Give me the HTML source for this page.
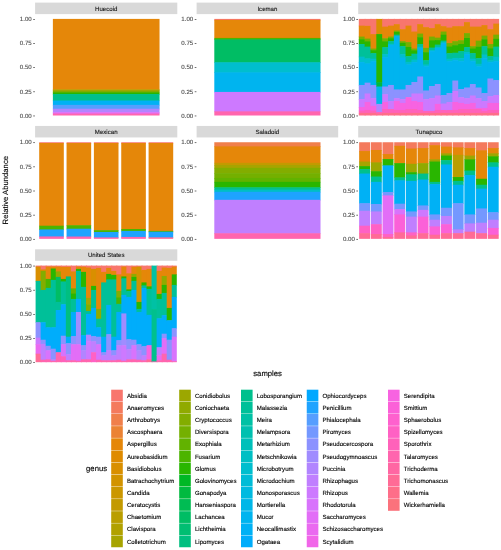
<!DOCTYPE html>
<html><head><meta charset="utf-8"><title>Relative Abundance by genus</title>
<style>
html,body{margin:0;padding:0;background:#fff;}
body{width:501px;height:550px;overflow:hidden;}
svg{display:block;text-rendering:geometricPrecision;}
text{stroke-width:0.12px;paint-order:stroke;font-family:"Liberation Sans",Arial,Helvetica,sans-serif;}
</style></head><body>
<svg width="501" height="550" viewBox="0 0 501 550">
<rect x="0" y="0" width="501" height="550" fill="#FFFFFF"/>
<rect x="35.10" y="2.60" width="142.20" height="11.50" fill="#D9D9D9"/>
<text x="106.20" y="10.50" font-size="6.1" fill="#1A1A1A" stroke="#1A1A1A" text-anchor="middle">Huecoid</text>
<rect x="33.20" y="19.00" width="1.70" height="0.70" fill="#333333"/>
<text x="31.70" y="21.05" font-size="6.1" fill="#4D4D4D" stroke="#4D4D4D" text-anchor="end">1.00</text>
<rect x="33.20" y="43.15" width="1.70" height="0.70" fill="#333333"/>
<text x="31.70" y="45.20" font-size="6.1" fill="#4D4D4D" stroke="#4D4D4D" text-anchor="end">0.75</text>
<rect x="33.20" y="67.30" width="1.70" height="0.70" fill="#333333"/>
<text x="31.70" y="69.35" font-size="6.1" fill="#4D4D4D" stroke="#4D4D4D" text-anchor="end">0.50</text>
<rect x="33.20" y="91.45" width="1.70" height="0.70" fill="#333333"/>
<text x="31.70" y="93.50" font-size="6.1" fill="#4D4D4D" stroke="#4D4D4D" text-anchor="end">0.25</text>
<rect x="33.20" y="115.60" width="1.70" height="0.70" fill="#333333"/>
<text x="31.70" y="117.65" font-size="6.1" fill="#4D4D4D" stroke="#4D4D4D" text-anchor="end">0.00</text>
<rect x="52.88" y="18.90" width="106.65" height="70.92" fill="#E58709"/>
<rect x="52.88" y="89.22" width="106.65" height="1.76" fill="#BA9E00"/>
<rect x="52.88" y="90.38" width="106.65" height="1.86" fill="#90AA00"/>
<rect x="52.88" y="91.64" width="106.65" height="1.66" fill="#62B200"/>
<rect x="52.88" y="92.70" width="106.65" height="1.95" fill="#29B600"/>
<rect x="52.88" y="94.05" width="106.65" height="7.07" fill="#00C08D"/>
<rect x="52.88" y="100.53" width="106.65" height="4.95" fill="#00B1F5"/>
<rect x="52.88" y="104.87" width="106.65" height="4.46" fill="#569EFF"/>
<rect x="52.88" y="108.74" width="106.65" height="3.98" fill="#B185FF"/>
<rect x="52.88" y="112.12" width="106.65" height="2.05" fill="#E26EF7"/>
<rect x="52.88" y="113.57" width="106.65" height="1.93" fill="#FF65AE"/>
<rect x="196.60" y="2.60" width="141.60" height="11.50" fill="#D9D9D9"/>
<text x="267.40" y="10.50" font-size="6.1" fill="#1A1A1A" stroke="#1A1A1A" text-anchor="middle">Iceman</text>
<rect x="194.70" y="19.00" width="1.70" height="0.70" fill="#333333"/>
<text x="193.20" y="21.05" font-size="6.1" fill="#4D4D4D" stroke="#4D4D4D" text-anchor="end">1.00</text>
<rect x="194.70" y="43.15" width="1.70" height="0.70" fill="#333333"/>
<text x="193.20" y="45.20" font-size="6.1" fill="#4D4D4D" stroke="#4D4D4D" text-anchor="end">0.75</text>
<rect x="194.70" y="67.30" width="1.70" height="0.70" fill="#333333"/>
<text x="193.20" y="69.35" font-size="6.1" fill="#4D4D4D" stroke="#4D4D4D" text-anchor="end">0.50</text>
<rect x="194.70" y="91.45" width="1.70" height="0.70" fill="#333333"/>
<text x="193.20" y="93.50" font-size="6.1" fill="#4D4D4D" stroke="#4D4D4D" text-anchor="end">0.25</text>
<rect x="194.70" y="115.60" width="1.70" height="0.70" fill="#333333"/>
<text x="193.20" y="117.65" font-size="6.1" fill="#4D4D4D" stroke="#4D4D4D" text-anchor="end">0.00</text>
<rect x="214.30" y="18.90" width="106.20" height="1.57" fill="#F8766D"/>
<rect x="214.30" y="19.87" width="106.20" height="18.66" fill="#E58709"/>
<rect x="214.30" y="37.93" width="106.20" height="2.05" fill="#4CB400"/>
<rect x="214.30" y="39.38" width="106.20" height="23.49" fill="#00BD64"/>
<rect x="214.30" y="62.27" width="106.20" height="10.65" fill="#00BECE"/>
<rect x="214.30" y="72.32" width="106.20" height="20.21" fill="#00B4EF"/>
<rect x="214.30" y="91.93" width="106.20" height="20.02" fill="#CD79FF"/>
<rect x="214.30" y="111.35" width="106.20" height="4.15" fill="#FF65AE"/>
<rect x="358.20" y="2.60" width="141.50" height="11.50" fill="#D9D9D9"/>
<text x="428.95" y="10.50" font-size="6.1" fill="#1A1A1A" stroke="#1A1A1A" text-anchor="middle">Matses</text>
<rect x="356.30" y="19.00" width="1.70" height="0.70" fill="#333333"/>
<text x="354.80" y="21.05" font-size="6.1" fill="#4D4D4D" stroke="#4D4D4D" text-anchor="end">1.00</text>
<rect x="356.30" y="43.15" width="1.70" height="0.70" fill="#333333"/>
<text x="354.80" y="45.20" font-size="6.1" fill="#4D4D4D" stroke="#4D4D4D" text-anchor="end">0.75</text>
<rect x="356.30" y="67.30" width="1.70" height="0.70" fill="#333333"/>
<text x="354.80" y="69.35" font-size="6.1" fill="#4D4D4D" stroke="#4D4D4D" text-anchor="end">0.50</text>
<rect x="356.30" y="91.45" width="1.70" height="0.70" fill="#333333"/>
<text x="354.80" y="93.50" font-size="6.1" fill="#4D4D4D" stroke="#4D4D4D" text-anchor="end">0.25</text>
<rect x="356.30" y="115.60" width="1.70" height="0.70" fill="#333333"/>
<text x="354.80" y="117.65" font-size="6.1" fill="#4D4D4D" stroke="#4D4D4D" text-anchor="end">0.00</text>
<rect x="358.78" y="18.90" width="6.85" height="7.36" fill="#F8766D"/>
<rect x="358.78" y="25.66" width="6.85" height="11.52" fill="#E58709"/>
<rect x="358.78" y="36.58" width="6.85" height="3.20" fill="#74B000"/>
<rect x="358.78" y="39.18" width="6.85" height="5.43" fill="#29B600"/>
<rect x="358.78" y="44.02" width="6.85" height="13.24" fill="#00C099"/>
<rect x="358.78" y="56.66" width="6.85" height="6.02" fill="#00BECE"/>
<rect x="358.78" y="62.08" width="6.85" height="23.49" fill="#00B4EF"/>
<rect x="358.78" y="84.97" width="6.85" height="14.70" fill="#8C92FF"/>
<rect x="358.78" y="99.08" width="6.85" height="8.52" fill="#CD79FF"/>
<rect x="358.78" y="107.00" width="6.85" height="4.27" fill="#F763E1"/>
<rect x="358.78" y="110.67" width="6.85" height="2.82" fill="#FF62BA"/>
<rect x="358.78" y="112.89" width="6.85" height="2.61" fill="#FE6E89"/>
<rect x="364.63" y="18.90" width="6.85" height="7.56" fill="#F8766D"/>
<rect x="364.63" y="25.86" width="6.85" height="13.35" fill="#E58709"/>
<rect x="364.63" y="38.61" width="6.85" height="3.41" fill="#74B000"/>
<rect x="364.63" y="41.41" width="6.85" height="5.81" fill="#29B600"/>
<rect x="364.63" y="46.62" width="6.85" height="12.30" fill="#00C099"/>
<rect x="364.63" y="58.32" width="6.85" height="5.61" fill="#00BECE"/>
<rect x="364.63" y="63.34" width="6.85" height="19.92" fill="#00B4EF"/>
<rect x="364.63" y="82.66" width="6.85" height="11.42" fill="#8C92FF"/>
<rect x="364.63" y="93.48" width="6.85" height="9.10" fill="#CD79FF"/>
<rect x="364.63" y="101.98" width="6.85" height="8.62" fill="#F763E1"/>
<rect x="364.63" y="109.99" width="6.85" height="3.50" fill="#FF62BA"/>
<rect x="364.63" y="112.89" width="6.85" height="2.61" fill="#FE6E89"/>
<rect x="370.48" y="18.90" width="6.85" height="15.77" fill="#F8766D"/>
<rect x="370.48" y="34.07" width="6.85" height="15.09" fill="#E58709"/>
<rect x="370.48" y="48.56" width="6.85" height="2.19" fill="#74B000"/>
<rect x="370.48" y="50.15" width="6.85" height="3.55" fill="#29B600"/>
<rect x="370.48" y="53.10" width="6.85" height="6.21" fill="#00C099"/>
<rect x="370.48" y="58.71" width="6.85" height="3.01" fill="#00BECE"/>
<rect x="370.48" y="61.11" width="6.85" height="24.46" fill="#00B4EF"/>
<rect x="370.48" y="84.97" width="6.85" height="13.74" fill="#8C92FF"/>
<rect x="370.48" y="98.11" width="6.85" height="8.33" fill="#CD79FF"/>
<rect x="370.48" y="105.84" width="6.85" height="5.43" fill="#F763E1"/>
<rect x="370.48" y="110.67" width="6.85" height="2.82" fill="#FF62BA"/>
<rect x="370.48" y="112.89" width="6.85" height="2.61" fill="#FE6E89"/>
<rect x="376.33" y="18.90" width="6.85" height="15.77" fill="#D98F00"/>
<rect x="376.33" y="34.07" width="6.85" height="48.71" fill="#29B600"/>
<rect x="376.33" y="82.17" width="6.85" height="4.95" fill="#00BA40"/>
<rect x="376.33" y="86.52" width="6.85" height="17.99" fill="#00B7E8"/>
<rect x="376.33" y="103.91" width="6.85" height="8.71" fill="#B185FF"/>
<rect x="376.33" y="112.02" width="6.85" height="2.15" fill="#FF62BA"/>
<rect x="376.33" y="113.57" width="6.85" height="1.93" fill="#FE6E89"/>
<rect x="382.17" y="18.90" width="6.85" height="8.33" fill="#F8766D"/>
<rect x="382.17" y="26.63" width="6.85" height="12.19" fill="#E58709"/>
<rect x="382.17" y="38.22" width="6.85" height="3.71" fill="#74B000"/>
<rect x="382.17" y="41.33" width="6.85" height="6.38" fill="#29B600"/>
<rect x="382.17" y="47.11" width="6.85" height="7.56" fill="#00C099"/>
<rect x="382.17" y="54.07" width="6.85" height="3.58" fill="#00BECE"/>
<rect x="382.17" y="57.06" width="6.85" height="30.06" fill="#00B4EF"/>
<rect x="382.17" y="86.52" width="6.85" height="8.33" fill="#8C92FF"/>
<rect x="382.17" y="94.25" width="6.85" height="8.33" fill="#CD79FF"/>
<rect x="382.17" y="101.98" width="6.85" height="7.65" fill="#F763E1"/>
<rect x="382.17" y="109.03" width="6.85" height="4.46" fill="#FF62BA"/>
<rect x="382.17" y="112.89" width="6.85" height="2.61" fill="#FE6E89"/>
<rect x="388.02" y="18.90" width="6.85" height="7.36" fill="#F8766D"/>
<rect x="388.02" y="25.66" width="6.85" height="11.52" fill="#E58709"/>
<rect x="388.02" y="36.58" width="6.85" height="2.19" fill="#74B000"/>
<rect x="388.02" y="38.17" width="6.85" height="3.55" fill="#29B600"/>
<rect x="388.02" y="41.12" width="6.85" height="3.30" fill="#00C099"/>
<rect x="388.02" y="43.82" width="6.85" height="1.76" fill="#00BECE"/>
<rect x="388.02" y="44.98" width="6.85" height="40.59" fill="#00B4EF"/>
<rect x="388.02" y="84.97" width="6.85" height="16.64" fill="#8C92FF"/>
<rect x="388.02" y="101.01" width="6.85" height="8.62" fill="#CD79FF"/>
<rect x="388.02" y="109.03" width="6.85" height="4.46" fill="#FF62BA"/>
<rect x="388.02" y="112.89" width="6.85" height="2.61" fill="#FE6E89"/>
<rect x="393.87" y="18.90" width="6.85" height="5.82" fill="#F8766D"/>
<rect x="393.87" y="24.12" width="6.85" height="7.07" fill="#E58709"/>
<rect x="393.87" y="30.59" width="6.85" height="2.02" fill="#74B000"/>
<rect x="393.87" y="32.01" width="6.85" height="3.24" fill="#29B600"/>
<rect x="393.87" y="34.65" width="6.85" height="1.75" fill="#00C099"/>
<rect x="393.87" y="35.80" width="6.85" height="1.09" fill="#00BECE"/>
<rect x="393.87" y="36.29" width="6.85" height="53.73" fill="#00B4EF"/>
<rect x="393.87" y="89.42" width="6.85" height="9.29" fill="#8C92FF"/>
<rect x="393.87" y="98.11" width="6.85" height="3.50" fill="#CD79FF"/>
<rect x="393.87" y="101.01" width="6.85" height="9.58" fill="#F763E1"/>
<rect x="393.87" y="109.99" width="6.85" height="3.50" fill="#FF62BA"/>
<rect x="393.87" y="112.89" width="6.85" height="2.61" fill="#FE6E89"/>
<rect x="399.71" y="18.90" width="6.85" height="10.84" fill="#F8766D"/>
<rect x="399.71" y="29.14" width="6.85" height="12.58" fill="#E58709"/>
<rect x="399.71" y="41.12" width="6.85" height="2.36" fill="#74B000"/>
<rect x="399.71" y="42.88" width="6.85" height="3.87" fill="#29B600"/>
<rect x="399.71" y="46.14" width="6.85" height="8.58" fill="#00C099"/>
<rect x="399.71" y="54.12" width="6.85" height="4.02" fill="#00BECE"/>
<rect x="399.71" y="57.54" width="6.85" height="32.48" fill="#00B4EF"/>
<rect x="399.71" y="89.42" width="6.85" height="10.26" fill="#8C92FF"/>
<rect x="399.71" y="99.08" width="6.85" height="4.46" fill="#CD79FF"/>
<rect x="399.71" y="102.94" width="6.85" height="7.65" fill="#F763E1"/>
<rect x="399.71" y="109.99" width="6.85" height="3.50" fill="#FF62BA"/>
<rect x="399.71" y="112.89" width="6.85" height="2.61" fill="#FE6E89"/>
<rect x="405.56" y="18.90" width="6.85" height="7.36" fill="#F8766D"/>
<rect x="405.56" y="25.66" width="6.85" height="17.02" fill="#E58709"/>
<rect x="405.56" y="42.08" width="6.85" height="5.50" fill="#74B000"/>
<rect x="405.56" y="46.99" width="6.85" height="9.70" fill="#29B600"/>
<rect x="405.56" y="56.09" width="6.85" height="6.35" fill="#00C099"/>
<rect x="405.56" y="61.84" width="6.85" height="3.06" fill="#00BECE"/>
<rect x="405.56" y="64.30" width="6.85" height="21.27" fill="#00B4EF"/>
<rect x="405.56" y="84.97" width="6.85" height="12.77" fill="#8C92FF"/>
<rect x="405.56" y="97.15" width="6.85" height="12.48" fill="#F763E1"/>
<rect x="405.56" y="109.03" width="6.85" height="4.46" fill="#FF62BA"/>
<rect x="405.56" y="112.89" width="6.85" height="2.61" fill="#FE6E89"/>
<rect x="411.41" y="18.90" width="6.85" height="13.25" fill="#F8766D"/>
<rect x="411.41" y="31.55" width="6.85" height="17.60" fill="#E58709"/>
<rect x="411.41" y="48.56" width="6.85" height="2.39" fill="#74B000"/>
<rect x="411.41" y="50.35" width="6.85" height="3.93" fill="#29B600"/>
<rect x="411.41" y="53.68" width="6.85" height="6.48" fill="#00C099"/>
<rect x="411.41" y="59.56" width="6.85" height="3.12" fill="#00BECE"/>
<rect x="411.41" y="62.08" width="6.85" height="20.50" fill="#00B4EF"/>
<rect x="411.41" y="81.98" width="6.85" height="12.10" fill="#8C92FF"/>
<rect x="411.41" y="93.48" width="6.85" height="8.13" fill="#CD79FF"/>
<rect x="411.41" y="101.01" width="6.85" height="8.62" fill="#F763E1"/>
<rect x="411.41" y="109.03" width="6.85" height="4.46" fill="#FF62BA"/>
<rect x="411.41" y="112.89" width="6.85" height="2.61" fill="#FE6E89"/>
<rect x="417.26" y="18.90" width="6.85" height="5.82" fill="#F8766D"/>
<rect x="417.26" y="24.12" width="6.85" height="10.07" fill="#E58709"/>
<rect x="417.26" y="33.58" width="6.85" height="4.25" fill="#74B000"/>
<rect x="417.26" y="37.23" width="6.85" height="7.38" fill="#29B600"/>
<rect x="417.26" y="44.02" width="6.85" height="3.30" fill="#00C099"/>
<rect x="417.26" y="46.72" width="6.85" height="1.76" fill="#00BECE"/>
<rect x="417.26" y="47.88" width="6.85" height="29.19" fill="#00B4EF"/>
<rect x="417.26" y="76.47" width="6.85" height="17.60" fill="#8C92FF"/>
<rect x="417.26" y="93.48" width="6.85" height="9.10" fill="#CD79FF"/>
<rect x="417.26" y="101.98" width="6.85" height="8.62" fill="#F763E1"/>
<rect x="417.26" y="109.99" width="6.85" height="3.50" fill="#FF62BA"/>
<rect x="417.26" y="112.89" width="6.85" height="2.61" fill="#FE6E89"/>
<rect x="423.10" y="18.90" width="6.85" height="8.81" fill="#F8766D"/>
<rect x="423.10" y="27.11" width="6.85" height="21.37" fill="#E58709"/>
<rect x="423.10" y="47.88" width="6.85" height="4.89" fill="#74B000"/>
<rect x="423.10" y="52.17" width="6.85" height="8.57" fill="#29B600"/>
<rect x="423.10" y="60.15" width="6.85" height="4.86" fill="#00C099"/>
<rect x="423.10" y="64.41" width="6.85" height="2.43" fill="#00BECE"/>
<rect x="423.10" y="66.23" width="6.85" height="24.85" fill="#00B4EF"/>
<rect x="423.10" y="90.48" width="6.85" height="9.20" fill="#8C92FF"/>
<rect x="423.10" y="99.08" width="6.85" height="12.48" fill="#CD79FF"/>
<rect x="423.10" y="110.96" width="6.85" height="2.53" fill="#FF62BA"/>
<rect x="423.10" y="112.89" width="6.85" height="2.61" fill="#FE6E89"/>
<rect x="428.95" y="18.90" width="6.85" height="9.78" fill="#F8766D"/>
<rect x="428.95" y="28.08" width="6.85" height="9.10" fill="#E58709"/>
<rect x="428.95" y="36.58" width="6.85" height="4.45" fill="#74B000"/>
<rect x="428.95" y="40.43" width="6.85" height="7.76" fill="#29B600"/>
<rect x="428.95" y="47.59" width="6.85" height="3.03" fill="#00C099"/>
<rect x="428.95" y="50.02" width="6.85" height="1.64" fill="#00BECE"/>
<rect x="428.95" y="51.07" width="6.85" height="35.57" fill="#00B4EF"/>
<rect x="428.95" y="86.04" width="6.85" height="12.67" fill="#8C92FF"/>
<rect x="428.95" y="98.11" width="6.85" height="13.45" fill="#CD79FF"/>
<rect x="428.95" y="110.96" width="6.85" height="2.53" fill="#FF62BA"/>
<rect x="428.95" y="112.89" width="6.85" height="2.61" fill="#FE6E89"/>
<rect x="434.80" y="18.90" width="6.85" height="5.82" fill="#F8766D"/>
<rect x="434.80" y="24.12" width="6.85" height="14.12" fill="#E58709"/>
<rect x="434.80" y="37.64" width="6.85" height="3.03" fill="#74B000"/>
<rect x="434.80" y="40.07" width="6.85" height="5.12" fill="#29B600"/>
<rect x="434.80" y="44.60" width="6.85" height="2.90" fill="#00C099"/>
<rect x="434.80" y="46.89" width="6.85" height="1.59" fill="#00BECE"/>
<rect x="434.80" y="47.88" width="6.85" height="36.73" fill="#00B4EF"/>
<rect x="434.80" y="84.01" width="6.85" height="12.10" fill="#8C92FF"/>
<rect x="434.80" y="95.50" width="6.85" height="9.00" fill="#CD79FF"/>
<rect x="434.80" y="103.91" width="6.85" height="6.69" fill="#F763E1"/>
<rect x="434.80" y="109.99" width="6.85" height="3.50" fill="#FF62BA"/>
<rect x="434.80" y="112.89" width="6.85" height="2.61" fill="#FE6E89"/>
<rect x="440.64" y="18.90" width="6.85" height="7.84" fill="#F8766D"/>
<rect x="440.64" y="26.14" width="6.85" height="6.01" fill="#E58709"/>
<rect x="440.64" y="31.55" width="6.85" height="3.78" fill="#74B000"/>
<rect x="440.64" y="34.73" width="6.85" height="6.50" fill="#29B600"/>
<rect x="440.64" y="40.63" width="6.85" height="2.29" fill="#00C099"/>
<rect x="440.64" y="42.33" width="6.85" height="1.32" fill="#00BECE"/>
<rect x="440.64" y="43.05" width="6.85" height="52.57" fill="#00B4EF"/>
<rect x="440.64" y="95.02" width="6.85" height="9.10" fill="#8C92FF"/>
<rect x="440.64" y="103.52" width="6.85" height="7.07" fill="#CD79FF"/>
<rect x="440.64" y="109.99" width="6.85" height="3.50" fill="#FF62BA"/>
<rect x="440.64" y="112.89" width="6.85" height="2.61" fill="#FE6E89"/>
<rect x="446.49" y="18.90" width="6.85" height="9.29" fill="#F8766D"/>
<rect x="446.49" y="27.59" width="6.85" height="16.06" fill="#E58709"/>
<rect x="446.49" y="43.05" width="6.85" height="4.12" fill="#74B000"/>
<rect x="446.49" y="46.57" width="6.85" height="7.13" fill="#29B600"/>
<rect x="446.49" y="53.10" width="6.85" height="6.21" fill="#00C099"/>
<rect x="446.49" y="58.71" width="6.85" height="3.01" fill="#00BECE"/>
<rect x="446.49" y="61.11" width="6.85" height="32.48" fill="#00B4EF"/>
<rect x="446.49" y="92.99" width="6.85" height="9.58" fill="#8C92FF"/>
<rect x="446.49" y="101.98" width="6.85" height="8.62" fill="#CD79FF"/>
<rect x="446.49" y="109.99" width="6.85" height="3.50" fill="#FF62BA"/>
<rect x="446.49" y="112.89" width="6.85" height="2.61" fill="#FE6E89"/>
<rect x="452.34" y="18.90" width="6.85" height="7.84" fill="#F8766D"/>
<rect x="452.34" y="26.14" width="6.85" height="15.57" fill="#E58709"/>
<rect x="452.34" y="41.12" width="6.85" height="4.66" fill="#74B000"/>
<rect x="452.34" y="45.18" width="6.85" height="8.13" fill="#29B600"/>
<rect x="452.34" y="52.71" width="6.85" height="5.81" fill="#00C099"/>
<rect x="452.34" y="57.92" width="6.85" height="2.83" fill="#00BECE"/>
<rect x="452.34" y="60.15" width="6.85" height="20.98" fill="#00B4EF"/>
<rect x="452.34" y="80.53" width="6.85" height="11.03" fill="#8C92FF"/>
<rect x="452.34" y="90.96" width="6.85" height="11.61" fill="#CD79FF"/>
<rect x="452.34" y="101.98" width="6.85" height="8.62" fill="#F763E1"/>
<rect x="452.34" y="109.99" width="6.85" height="3.50" fill="#FF62BA"/>
<rect x="452.34" y="112.89" width="6.85" height="2.61" fill="#FE6E89"/>
<rect x="458.19" y="18.90" width="6.85" height="7.84" fill="#F8766D"/>
<rect x="458.19" y="26.14" width="6.85" height="14.61" fill="#E58709"/>
<rect x="458.19" y="40.15" width="6.85" height="4.42" fill="#74B000"/>
<rect x="458.19" y="43.97" width="6.85" height="7.70" fill="#29B600"/>
<rect x="458.19" y="51.07" width="6.85" height="7.63" fill="#00C099"/>
<rect x="458.19" y="58.10" width="6.85" height="3.61" fill="#00BECE"/>
<rect x="458.19" y="61.11" width="6.85" height="28.52" fill="#00B4EF"/>
<rect x="458.19" y="89.03" width="6.85" height="8.71" fill="#8C92FF"/>
<rect x="458.19" y="97.15" width="6.85" height="6.40" fill="#CD79FF"/>
<rect x="458.19" y="102.94" width="6.85" height="6.69" fill="#F763E1"/>
<rect x="458.19" y="109.03" width="6.85" height="4.46" fill="#FF62BA"/>
<rect x="458.19" y="112.89" width="6.85" height="2.61" fill="#FE6E89"/>
<rect x="464.03" y="18.90" width="6.85" height="3.79" fill="#F8766D"/>
<rect x="464.03" y="22.09" width="6.85" height="11.61" fill="#E58709"/>
<rect x="464.03" y="33.10" width="6.85" height="5.50" fill="#74B000"/>
<rect x="464.03" y="38.00" width="6.85" height="9.70" fill="#29B600"/>
<rect x="464.03" y="47.11" width="6.85" height="5.47" fill="#00C099"/>
<rect x="464.03" y="51.98" width="6.85" height="2.69" fill="#00BECE"/>
<rect x="464.03" y="54.06" width="6.85" height="34.02" fill="#00B4EF"/>
<rect x="464.03" y="87.49" width="6.85" height="11.23" fill="#8C92FF"/>
<rect x="464.03" y="98.11" width="6.85" height="6.40" fill="#CD79FF"/>
<rect x="464.03" y="103.91" width="6.85" height="5.72" fill="#F763E1"/>
<rect x="464.03" y="109.03" width="6.85" height="4.46" fill="#FF62BA"/>
<rect x="464.03" y="112.89" width="6.85" height="2.61" fill="#FE6E89"/>
<rect x="469.88" y="18.90" width="6.85" height="8.33" fill="#F8766D"/>
<rect x="469.88" y="26.63" width="6.85" height="20.11" fill="#E58709"/>
<rect x="469.88" y="46.14" width="6.85" height="3.03" fill="#74B000"/>
<rect x="469.88" y="48.58" width="6.85" height="5.12" fill="#29B600"/>
<rect x="469.88" y="53.10" width="6.85" height="6.21" fill="#00C099"/>
<rect x="469.88" y="58.71" width="6.85" height="3.01" fill="#00BECE"/>
<rect x="469.88" y="61.11" width="6.85" height="23.49" fill="#00B4EF"/>
<rect x="469.88" y="84.01" width="6.85" height="12.10" fill="#8C92FF"/>
<rect x="469.88" y="95.50" width="6.85" height="8.04" fill="#CD79FF"/>
<rect x="469.88" y="102.94" width="6.85" height="6.69" fill="#F763E1"/>
<rect x="469.88" y="109.03" width="6.85" height="4.46" fill="#FF62BA"/>
<rect x="469.88" y="112.89" width="6.85" height="2.61" fill="#FE6E89"/>
<rect x="475.73" y="18.90" width="6.85" height="8.33" fill="#F8766D"/>
<rect x="475.73" y="26.63" width="6.85" height="14.61" fill="#E58709"/>
<rect x="475.73" y="40.63" width="6.85" height="6.72" fill="#74B000"/>
<rect x="475.73" y="46.75" width="6.85" height="11.96" fill="#29B600"/>
<rect x="475.73" y="58.12" width="6.85" height="6.28" fill="#00C099"/>
<rect x="475.73" y="63.80" width="6.85" height="3.03" fill="#00BECE"/>
<rect x="475.73" y="66.23" width="6.85" height="21.85" fill="#00B4EF"/>
<rect x="475.73" y="87.49" width="6.85" height="11.23" fill="#8C92FF"/>
<rect x="475.73" y="98.11" width="6.85" height="10.45" fill="#CD79FF"/>
<rect x="475.73" y="107.97" width="6.85" height="1.66" fill="#F763E1"/>
<rect x="475.73" y="109.03" width="6.85" height="4.46" fill="#FF62BA"/>
<rect x="475.73" y="112.89" width="6.85" height="2.61" fill="#FE6E89"/>
<rect x="481.57" y="18.90" width="6.85" height="6.78" fill="#F8766D"/>
<rect x="481.57" y="25.08" width="6.85" height="11.13" fill="#E58709"/>
<rect x="481.57" y="35.61" width="6.85" height="4.29" fill="#74B000"/>
<rect x="481.57" y="39.30" width="6.85" height="7.44" fill="#29B600"/>
<rect x="481.57" y="46.14" width="6.85" height="8.98" fill="#00C099"/>
<rect x="481.57" y="54.53" width="6.85" height="4.19" fill="#00BECE"/>
<rect x="481.57" y="58.12" width="6.85" height="35.47" fill="#00B4EF"/>
<rect x="481.57" y="92.99" width="6.85" height="8.62" fill="#8C92FF"/>
<rect x="481.57" y="101.01" width="6.85" height="7.56" fill="#CD79FF"/>
<rect x="481.57" y="107.97" width="6.85" height="3.59" fill="#F763E1"/>
<rect x="481.57" y="110.96" width="6.85" height="2.53" fill="#FF62BA"/>
<rect x="481.57" y="112.89" width="6.85" height="2.61" fill="#FE6E89"/>
<rect x="487.42" y="18.90" width="6.85" height="10.84" fill="#F8766D"/>
<rect x="487.42" y="29.14" width="6.85" height="15.48" fill="#E58709"/>
<rect x="487.42" y="44.02" width="6.85" height="4.83" fill="#74B000"/>
<rect x="487.42" y="48.24" width="6.85" height="8.45" fill="#29B600"/>
<rect x="487.42" y="56.09" width="6.85" height="4.79" fill="#00C099"/>
<rect x="487.42" y="60.28" width="6.85" height="2.40" fill="#00BECE"/>
<rect x="487.42" y="62.08" width="6.85" height="17.02" fill="#00B4EF"/>
<rect x="487.42" y="78.50" width="6.85" height="18.28" fill="#8C92FF"/>
<rect x="487.42" y="96.18" width="6.85" height="7.36" fill="#CD79FF"/>
<rect x="487.42" y="102.94" width="6.85" height="7.65" fill="#F763E1"/>
<rect x="487.42" y="109.99" width="6.85" height="3.50" fill="#FF62BA"/>
<rect x="487.42" y="112.89" width="6.85" height="2.61" fill="#FE6E89"/>
<rect x="493.27" y="18.90" width="5.85" height="5.33" fill="#F8766D"/>
<rect x="493.27" y="23.63" width="5.85" height="11.61" fill="#E58709"/>
<rect x="493.27" y="34.65" width="5.85" height="4.79" fill="#74B000"/>
<rect x="493.27" y="38.84" width="5.85" height="8.39" fill="#29B600"/>
<rect x="493.27" y="46.62" width="5.85" height="10.74" fill="#00C099"/>
<rect x="493.27" y="56.77" width="5.85" height="4.95" fill="#00BECE"/>
<rect x="493.27" y="61.11" width="5.85" height="19.53" fill="#00B4EF"/>
<rect x="493.27" y="80.05" width="5.85" height="15.57" fill="#8C92FF"/>
<rect x="493.27" y="95.02" width="5.85" height="8.52" fill="#CD79FF"/>
<rect x="493.27" y="102.94" width="5.85" height="7.65" fill="#F763E1"/>
<rect x="493.27" y="109.99" width="5.85" height="3.50" fill="#FF62BA"/>
<rect x="493.27" y="112.89" width="5.85" height="2.61" fill="#FE6E89"/>
<rect x="35.10" y="125.95" width="142.20" height="11.50" fill="#D9D9D9"/>
<text x="106.20" y="133.85" font-size="6.1" fill="#1A1A1A" stroke="#1A1A1A" text-anchor="middle">Mexican</text>
<rect x="33.20" y="142.35" width="1.70" height="0.70" fill="#333333"/>
<text x="31.70" y="144.40" font-size="6.1" fill="#4D4D4D" stroke="#4D4D4D" text-anchor="end">1.00</text>
<rect x="33.20" y="166.50" width="1.70" height="0.70" fill="#333333"/>
<text x="31.70" y="168.55" font-size="6.1" fill="#4D4D4D" stroke="#4D4D4D" text-anchor="end">0.75</text>
<rect x="33.20" y="190.65" width="1.70" height="0.70" fill="#333333"/>
<text x="31.70" y="192.70" font-size="6.1" fill="#4D4D4D" stroke="#4D4D4D" text-anchor="end">0.50</text>
<rect x="33.20" y="214.80" width="1.70" height="0.70" fill="#333333"/>
<text x="31.70" y="216.85" font-size="6.1" fill="#4D4D4D" stroke="#4D4D4D" text-anchor="end">0.25</text>
<rect x="33.20" y="238.95" width="1.70" height="0.70" fill="#333333"/>
<text x="31.70" y="241.00" font-size="6.1" fill="#4D4D4D" stroke="#4D4D4D" text-anchor="end">0.00</text>
<rect x="39.20" y="142.25" width="24.61" height="1.37" fill="#F8766D"/>
<rect x="39.20" y="143.02" width="24.61" height="83.29" fill="#E58709"/>
<rect x="39.20" y="225.71" width="24.61" height="4.31" fill="#4CB400"/>
<rect x="39.20" y="229.42" width="24.61" height="7.61" fill="#1EA3FF"/>
<rect x="39.20" y="236.44" width="24.61" height="2.41" fill="#FF65AE"/>
<rect x="66.55" y="142.25" width="24.61" height="1.37" fill="#F8766D"/>
<rect x="66.55" y="143.02" width="24.61" height="82.81" fill="#E58709"/>
<rect x="66.55" y="225.23" width="24.61" height="4.08" fill="#4CB400"/>
<rect x="66.55" y="228.71" width="24.61" height="8.42" fill="#1EA3FF"/>
<rect x="66.55" y="236.53" width="24.61" height="2.32" fill="#FF65AE"/>
<rect x="93.89" y="142.25" width="24.61" height="1.37" fill="#F8766D"/>
<rect x="93.89" y="143.02" width="24.61" height="87.73" fill="#E58709"/>
<rect x="93.89" y="230.16" width="24.61" height="2.44" fill="#4CB400"/>
<rect x="93.89" y="231.99" width="24.61" height="6.01" fill="#1EA3FF"/>
<rect x="93.89" y="237.40" width="24.61" height="1.45" fill="#FF65AE"/>
<rect x="121.24" y="142.25" width="24.61" height="1.37" fill="#F8766D"/>
<rect x="121.24" y="143.02" width="24.61" height="86.57" fill="#E58709"/>
<rect x="121.24" y="229.00" width="24.61" height="2.53" fill="#4CB400"/>
<rect x="121.24" y="230.93" width="24.61" height="6.59" fill="#1EA3FF"/>
<rect x="121.24" y="236.92" width="24.61" height="1.93" fill="#FF65AE"/>
<rect x="148.59" y="142.25" width="24.61" height="1.37" fill="#F8766D"/>
<rect x="148.59" y="143.02" width="24.61" height="88.51" fill="#E58709"/>
<rect x="148.59" y="230.93" width="24.61" height="1.37" fill="#4CB400"/>
<rect x="148.59" y="231.70" width="24.61" height="6.25" fill="#1EA3FF"/>
<rect x="148.59" y="237.35" width="24.61" height="1.50" fill="#FF6B96"/>
<rect x="196.60" y="125.95" width="141.60" height="11.50" fill="#D9D9D9"/>
<text x="267.40" y="133.85" font-size="6.1" fill="#1A1A1A" stroke="#1A1A1A" text-anchor="middle">Saladoid</text>
<rect x="194.70" y="142.35" width="1.70" height="0.70" fill="#333333"/>
<text x="193.20" y="144.40" font-size="6.1" fill="#4D4D4D" stroke="#4D4D4D" text-anchor="end">1.00</text>
<rect x="194.70" y="166.50" width="1.70" height="0.70" fill="#333333"/>
<text x="193.20" y="168.55" font-size="6.1" fill="#4D4D4D" stroke="#4D4D4D" text-anchor="end">0.75</text>
<rect x="194.70" y="190.65" width="1.70" height="0.70" fill="#333333"/>
<text x="193.20" y="192.70" font-size="6.1" fill="#4D4D4D" stroke="#4D4D4D" text-anchor="end">0.50</text>
<rect x="194.70" y="214.80" width="1.70" height="0.70" fill="#333333"/>
<text x="193.20" y="216.85" font-size="6.1" fill="#4D4D4D" stroke="#4D4D4D" text-anchor="end">0.25</text>
<rect x="194.70" y="238.95" width="1.70" height="0.70" fill="#333333"/>
<text x="193.20" y="241.00" font-size="6.1" fill="#4D4D4D" stroke="#4D4D4D" text-anchor="end">0.00</text>
<rect x="214.30" y="142.25" width="106.20" height="4.75" fill="#F07F4B"/>
<rect x="214.30" y="146.40" width="106.20" height="17.02" fill="#E58709"/>
<rect x="214.30" y="162.83" width="106.20" height="2.73" fill="#C39A00"/>
<rect x="214.30" y="164.95" width="106.20" height="3.50" fill="#A7A400"/>
<rect x="214.30" y="167.85" width="106.20" height="5.91" fill="#83AD00"/>
<rect x="214.30" y="173.16" width="106.20" height="5.43" fill="#74B000"/>
<rect x="214.30" y="177.99" width="106.20" height="4.46" fill="#62B200"/>
<rect x="214.30" y="181.86" width="106.20" height="6.01" fill="#29B600"/>
<rect x="214.30" y="187.27" width="106.20" height="2.92" fill="#00C08D"/>
<rect x="214.30" y="189.58" width="106.20" height="2.82" fill="#00BFC4"/>
<rect x="214.30" y="191.81" width="106.20" height="8.62" fill="#1EA3FF"/>
<rect x="214.30" y="199.82" width="106.20" height="34.02" fill="#C07FFF"/>
<rect x="214.30" y="233.25" width="106.20" height="5.60" fill="#FF65AE"/>
<rect x="358.20" y="125.95" width="141.50" height="11.50" fill="#D9D9D9"/>
<text x="428.95" y="133.85" font-size="6.1" fill="#1A1A1A" stroke="#1A1A1A" text-anchor="middle">Tunapuco</text>
<rect x="356.30" y="142.35" width="1.70" height="0.70" fill="#333333"/>
<text x="354.80" y="144.40" font-size="6.1" fill="#4D4D4D" stroke="#4D4D4D" text-anchor="end">1.00</text>
<rect x="356.30" y="166.50" width="1.70" height="0.70" fill="#333333"/>
<text x="354.80" y="168.55" font-size="6.1" fill="#4D4D4D" stroke="#4D4D4D" text-anchor="end">0.75</text>
<rect x="356.30" y="190.65" width="1.70" height="0.70" fill="#333333"/>
<text x="354.80" y="192.70" font-size="6.1" fill="#4D4D4D" stroke="#4D4D4D" text-anchor="end">0.50</text>
<rect x="356.30" y="214.80" width="1.70" height="0.70" fill="#333333"/>
<text x="354.80" y="216.85" font-size="6.1" fill="#4D4D4D" stroke="#4D4D4D" text-anchor="end">0.25</text>
<rect x="356.30" y="238.95" width="1.70" height="0.70" fill="#333333"/>
<text x="354.80" y="241.00" font-size="6.1" fill="#4D4D4D" stroke="#4D4D4D" text-anchor="end">0.00</text>
<rect x="359.15" y="142.25" width="10.95" height="9.39" fill="#F47A5D"/>
<rect x="359.15" y="151.04" width="10.95" height="11.13" fill="#E58709"/>
<rect x="359.15" y="161.57" width="10.95" height="5.14" fill="#A7A400"/>
<rect x="359.15" y="166.11" width="10.95" height="3.59" fill="#29B600"/>
<rect x="359.15" y="169.10" width="10.95" height="5.04" fill="#00C08D"/>
<rect x="359.15" y="173.55" width="10.95" height="30.26" fill="#00B1F5"/>
<rect x="359.15" y="203.20" width="10.95" height="8.13" fill="#7498FF"/>
<rect x="359.15" y="210.74" width="10.95" height="15.57" fill="#C07FFF"/>
<rect x="359.15" y="225.71" width="10.95" height="8.04" fill="#FF61C4"/>
<rect x="359.15" y="233.15" width="10.95" height="5.70" fill="#FF6B96"/>
<rect x="370.84" y="142.25" width="10.95" height="8.33" fill="#F47A5D"/>
<rect x="370.84" y="149.98" width="10.95" height="12.96" fill="#E58709"/>
<rect x="370.84" y="162.34" width="10.95" height="9.49" fill="#9CA700"/>
<rect x="370.84" y="171.23" width="10.95" height="5.91" fill="#29B600"/>
<rect x="370.84" y="176.54" width="10.95" height="5.91" fill="#00C08D"/>
<rect x="370.84" y="181.86" width="10.95" height="22.72" fill="#00B1F5"/>
<rect x="370.84" y="203.98" width="10.95" height="8.04" fill="#7498FF"/>
<rect x="370.84" y="211.42" width="10.95" height="13.35" fill="#C07FFF"/>
<rect x="370.84" y="224.17" width="10.95" height="10.45" fill="#FF61C4"/>
<rect x="370.84" y="234.02" width="10.95" height="4.83" fill="#FF6B96"/>
<rect x="382.53" y="142.25" width="10.95" height="12.39" fill="#F47A5D"/>
<rect x="382.53" y="154.04" width="10.95" height="5.62" fill="#E58709"/>
<rect x="382.53" y="159.06" width="10.95" height="6.88" fill="#29B600"/>
<rect x="382.53" y="165.34" width="10.95" height="27.26" fill="#00B1F5"/>
<rect x="382.53" y="192.00" width="10.95" height="3.98" fill="#7498FF"/>
<rect x="382.53" y="195.38" width="10.95" height="39.24" fill="#E26EF7"/>
<rect x="382.53" y="234.02" width="10.95" height="3.50" fill="#FF61C4"/>
<rect x="382.53" y="236.92" width="10.95" height="1.93" fill="#FF6B96"/>
<rect x="394.22" y="142.25" width="10.95" height="4.17" fill="#F47A5D"/>
<rect x="394.22" y="145.82" width="10.95" height="17.89" fill="#E58709"/>
<rect x="394.22" y="163.12" width="10.95" height="14.80" fill="#29B600"/>
<rect x="394.22" y="177.32" width="10.95" height="3.59" fill="#00C08D"/>
<rect x="394.22" y="180.31" width="10.95" height="23.98" fill="#00B1F5"/>
<rect x="394.22" y="203.69" width="10.95" height="6.11" fill="#7498FF"/>
<rect x="394.22" y="209.19" width="10.95" height="5.82" fill="#D873FC"/>
<rect x="394.22" y="214.41" width="10.95" height="18.57" fill="#FB61D8"/>
<rect x="394.22" y="232.38" width="10.95" height="6.47" fill="#FF6B96"/>
<rect x="405.91" y="142.25" width="10.95" height="6.88" fill="#F47A5D"/>
<rect x="405.91" y="148.53" width="10.95" height="15.86" fill="#E58709"/>
<rect x="405.91" y="163.79" width="10.95" height="9.00" fill="#9CA700"/>
<rect x="405.91" y="172.20" width="10.95" height="2.73" fill="#29B600"/>
<rect x="405.91" y="174.32" width="10.95" height="7.17" fill="#00C08D"/>
<rect x="405.91" y="180.89" width="10.95" height="31.13" fill="#00B1F5"/>
<rect x="405.91" y="211.42" width="10.95" height="5.82" fill="#7498FF"/>
<rect x="405.91" y="216.63" width="10.95" height="16.35" fill="#C07FFF"/>
<rect x="405.91" y="232.38" width="10.95" height="3.69" fill="#FF61C4"/>
<rect x="405.91" y="235.47" width="10.95" height="3.38" fill="#FF6B96"/>
<rect x="417.60" y="142.25" width="10.95" height="6.40" fill="#F47A5D"/>
<rect x="417.60" y="148.05" width="10.95" height="15.67" fill="#E58709"/>
<rect x="417.60" y="163.12" width="10.95" height="11.03" fill="#90AA00"/>
<rect x="417.60" y="173.55" width="10.95" height="6.59" fill="#00C08D"/>
<rect x="417.60" y="179.54" width="10.95" height="26.49" fill="#00B1F5"/>
<rect x="417.60" y="205.43" width="10.95" height="5.04" fill="#7498FF"/>
<rect x="417.60" y="209.87" width="10.95" height="7.36" fill="#CD79FF"/>
<rect x="417.60" y="216.63" width="10.95" height="17.12" fill="#FB61D8"/>
<rect x="417.60" y="233.15" width="10.95" height="5.70" fill="#FF6B96"/>
<rect x="429.29" y="142.25" width="10.95" height="3.50" fill="#F47A5D"/>
<rect x="429.29" y="145.15" width="10.95" height="14.80" fill="#E58709"/>
<rect x="429.29" y="159.35" width="10.95" height="2.82" fill="#9CA700"/>
<rect x="429.29" y="161.57" width="10.95" height="20.89" fill="#29B600"/>
<rect x="429.29" y="181.86" width="10.95" height="2.82" fill="#00C08D"/>
<rect x="429.29" y="184.08" width="10.95" height="30.93" fill="#00B1F5"/>
<rect x="429.29" y="214.41" width="10.95" height="5.91" fill="#7498FF"/>
<rect x="429.29" y="219.72" width="10.95" height="7.27" fill="#C07FFF"/>
<rect x="429.29" y="226.39" width="10.95" height="8.91" fill="#FB61D8"/>
<rect x="429.29" y="234.70" width="10.95" height="4.15" fill="#FF6B96"/>
<rect x="440.98" y="142.25" width="10.95" height="4.95" fill="#F47A5D"/>
<rect x="440.98" y="146.60" width="10.95" height="7.36" fill="#E58709"/>
<rect x="440.98" y="153.36" width="10.95" height="2.82" fill="#9CA700"/>
<rect x="440.98" y="155.58" width="10.95" height="5.14" fill="#29B600"/>
<rect x="440.98" y="160.12" width="10.95" height="4.95" fill="#00C08D"/>
<rect x="440.98" y="164.47" width="10.95" height="43.88" fill="#00B1F5"/>
<rect x="440.98" y="207.74" width="10.95" height="8.81" fill="#7498FF"/>
<rect x="440.98" y="215.96" width="10.95" height="8.81" fill="#C07FFF"/>
<rect x="440.98" y="224.17" width="10.95" height="9.58" fill="#FB61D8"/>
<rect x="440.98" y="233.15" width="10.95" height="5.70" fill="#FF6B96"/>
<rect x="452.67" y="142.25" width="10.95" height="5.72" fill="#F47A5D"/>
<rect x="452.67" y="147.37" width="10.95" height="8.04" fill="#E58709"/>
<rect x="452.67" y="154.81" width="10.95" height="22.82" fill="#BA9E00"/>
<rect x="452.67" y="177.03" width="10.95" height="4.46" fill="#29B600"/>
<rect x="452.67" y="180.89" width="10.95" height="4.46" fill="#00C08D"/>
<rect x="452.67" y="184.75" width="10.95" height="19.05" fill="#00B1F5"/>
<rect x="452.67" y="203.20" width="10.95" height="26.78" fill="#7498FF"/>
<rect x="452.67" y="229.38" width="10.95" height="4.37" fill="#C07FFF"/>
<rect x="452.67" y="233.15" width="10.95" height="5.70" fill="#FF6B96"/>
<rect x="464.36" y="142.25" width="10.95" height="6.40" fill="#F47A5D"/>
<rect x="464.36" y="148.05" width="10.95" height="8.13" fill="#E58709"/>
<rect x="464.36" y="155.58" width="10.95" height="4.37" fill="#9CA700"/>
<rect x="464.36" y="159.35" width="10.95" height="11.81" fill="#29B600"/>
<rect x="464.36" y="170.55" width="10.95" height="5.14" fill="#00C08D"/>
<rect x="464.36" y="175.09" width="10.95" height="39.92" fill="#00B1F5"/>
<rect x="464.36" y="214.41" width="10.95" height="9.58" fill="#7498FF"/>
<rect x="464.36" y="223.39" width="10.95" height="8.91" fill="#C07FFF"/>
<rect x="464.36" y="231.70" width="10.95" height="7.15" fill="#FF6B96"/>
<rect x="476.05" y="142.25" width="10.95" height="8.71" fill="#F47A5D"/>
<rect x="476.05" y="150.36" width="10.95" height="29.00" fill="#E58709"/>
<rect x="476.05" y="178.76" width="10.95" height="6.59" fill="#29B600"/>
<rect x="476.05" y="184.75" width="10.95" height="4.46" fill="#00C08D"/>
<rect x="476.05" y="188.62" width="10.95" height="20.40" fill="#00B1F5"/>
<rect x="476.05" y="208.42" width="10.95" height="14.90" fill="#7498FF"/>
<rect x="476.05" y="222.72" width="10.95" height="11.03" fill="#C07FFF"/>
<rect x="476.05" y="233.15" width="10.95" height="5.70" fill="#FF6B96"/>
<rect x="487.74" y="142.25" width="10.95" height="6.40" fill="#F47A5D"/>
<rect x="487.74" y="148.05" width="10.95" height="5.91" fill="#E58709"/>
<rect x="487.74" y="153.36" width="10.95" height="3.59" fill="#9CA700"/>
<rect x="487.74" y="156.35" width="10.95" height="6.59" fill="#29B600"/>
<rect x="487.74" y="162.34" width="10.95" height="5.04" fill="#00C08D"/>
<rect x="487.74" y="166.79" width="10.95" height="46.00" fill="#00B1F5"/>
<rect x="487.74" y="212.19" width="10.95" height="8.13" fill="#7498FF"/>
<rect x="487.74" y="219.72" width="10.95" height="8.81" fill="#C07FFF"/>
<rect x="487.74" y="227.93" width="10.95" height="7.36" fill="#FB61D8"/>
<rect x="487.74" y="234.70" width="10.95" height="4.15" fill="#FF6B96"/>
<rect x="35.10" y="249.30" width="142.20" height="11.50" fill="#D9D9D9"/>
<text x="106.20" y="257.20" font-size="6.1" fill="#1A1A1A" stroke="#1A1A1A" text-anchor="middle">United States</text>
<rect x="33.20" y="265.70" width="1.70" height="0.70" fill="#333333"/>
<text x="31.70" y="267.75" font-size="6.1" fill="#4D4D4D" stroke="#4D4D4D" text-anchor="end">1.00</text>
<rect x="33.20" y="289.85" width="1.70" height="0.70" fill="#333333"/>
<text x="31.70" y="291.90" font-size="6.1" fill="#4D4D4D" stroke="#4D4D4D" text-anchor="end">0.75</text>
<rect x="33.20" y="314.00" width="1.70" height="0.70" fill="#333333"/>
<text x="31.70" y="316.05" font-size="6.1" fill="#4D4D4D" stroke="#4D4D4D" text-anchor="end">0.50</text>
<rect x="33.20" y="338.15" width="1.70" height="0.70" fill="#333333"/>
<text x="31.70" y="340.20" font-size="6.1" fill="#4D4D4D" stroke="#4D4D4D" text-anchor="end">0.25</text>
<rect x="33.20" y="362.30" width="1.70" height="0.70" fill="#333333"/>
<text x="31.70" y="364.35" font-size="6.1" fill="#4D4D4D" stroke="#4D4D4D" text-anchor="end">0.00</text>
<rect x="35.60" y="265.60" width="6.04" height="1.57" fill="#F8766D"/>
<rect x="35.60" y="266.57" width="6.04" height="14.90" fill="#D98F00"/>
<rect x="35.60" y="280.86" width="6.04" height="41.94" fill="#00C099"/>
<rect x="35.60" y="322.21" width="6.04" height="16.06" fill="#8C92FF"/>
<rect x="35.60" y="337.66" width="6.04" height="7.17" fill="#CD79FF"/>
<rect x="35.60" y="344.23" width="6.04" height="10.07" fill="#EA6AF0"/>
<rect x="35.60" y="353.70" width="6.04" height="8.50" fill="#FF6B96"/>
<rect x="40.65" y="265.60" width="6.04" height="4.46" fill="#F8766D"/>
<rect x="40.65" y="269.46" width="6.04" height="2.05" fill="#D98F00"/>
<rect x="40.65" y="270.91" width="6.04" height="19.63" fill="#83AD00"/>
<rect x="40.65" y="289.94" width="6.04" height="32.86" fill="#00C099"/>
<rect x="40.65" y="322.21" width="6.04" height="18.08" fill="#00ADFB"/>
<rect x="40.65" y="339.69" width="6.04" height="4.75" fill="#8C92FF"/>
<rect x="40.65" y="343.85" width="6.04" height="16.44" fill="#C07FFF"/>
<rect x="40.65" y="359.69" width="6.04" height="2.51" fill="#FF65AE"/>
<rect x="45.69" y="265.60" width="6.04" height="1.57" fill="#F8766D"/>
<rect x="45.69" y="266.57" width="6.04" height="12.96" fill="#E58709"/>
<rect x="45.69" y="278.93" width="6.04" height="9.58" fill="#4CB400"/>
<rect x="45.69" y="287.91" width="6.04" height="39.92" fill="#00C099"/>
<rect x="45.69" y="327.23" width="6.04" height="19.15" fill="#00ADFB"/>
<rect x="45.69" y="345.78" width="6.04" height="5.04" fill="#8C92FF"/>
<rect x="45.69" y="350.22" width="6.04" height="9.68" fill="#D873FC"/>
<rect x="45.69" y="359.30" width="6.04" height="2.90" fill="#FF65AE"/>
<rect x="50.73" y="265.60" width="6.04" height="1.57" fill="#F8766D"/>
<rect x="50.73" y="266.57" width="6.04" height="2.53" fill="#E58709"/>
<rect x="50.73" y="268.50" width="6.04" height="12.00" fill="#29B600"/>
<rect x="50.73" y="279.90" width="6.04" height="47.93" fill="#00C099"/>
<rect x="50.73" y="327.23" width="6.04" height="22.05" fill="#00ADFB"/>
<rect x="50.73" y="348.68" width="6.04" height="11.23" fill="#8C92FF"/>
<rect x="50.73" y="359.30" width="6.04" height="2.05" fill="#C07FFF"/>
<rect x="50.73" y="360.75" width="6.04" height="1.45" fill="#FF65AE"/>
<rect x="55.77" y="265.60" width="6.04" height="1.57" fill="#F8766D"/>
<rect x="55.77" y="266.57" width="6.04" height="5.43" fill="#E58709"/>
<rect x="55.77" y="271.40" width="6.04" height="6.11" fill="#90AA00"/>
<rect x="55.77" y="276.90" width="6.04" height="25.62" fill="#00BD64"/>
<rect x="55.77" y="301.92" width="6.04" height="8.71" fill="#00C099"/>
<rect x="55.77" y="310.04" width="6.04" height="42.77" fill="#00ADFB"/>
<rect x="55.77" y="352.20" width="6.04" height="10.00" fill="#FF65AE"/>
<rect x="60.82" y="265.60" width="6.04" height="1.86" fill="#F8766D"/>
<rect x="60.82" y="266.86" width="6.04" height="12.67" fill="#E58709"/>
<rect x="60.82" y="278.93" width="6.04" height="3.11" fill="#29B600"/>
<rect x="60.82" y="281.44" width="6.04" height="23.40" fill="#00C099"/>
<rect x="60.82" y="304.24" width="6.04" height="32.09" fill="#00ADFB"/>
<rect x="60.82" y="335.73" width="6.04" height="9.10" fill="#8C92FF"/>
<rect x="60.82" y="344.23" width="6.04" height="12.58" fill="#D873FC"/>
<rect x="60.82" y="356.21" width="6.04" height="5.99" fill="#FF62BA"/>
<rect x="65.86" y="265.60" width="6.04" height="1.86" fill="#F8766D"/>
<rect x="65.86" y="266.86" width="6.04" height="10.16" fill="#E58709"/>
<rect x="65.86" y="276.42" width="6.04" height="60.88" fill="#00BF80"/>
<rect x="65.86" y="336.70" width="6.04" height="7.07" fill="#00ADFB"/>
<rect x="65.86" y="343.17" width="6.04" height="11.61" fill="#8C92FF"/>
<rect x="65.86" y="354.18" width="6.04" height="6.69" fill="#C07FFF"/>
<rect x="65.86" y="360.27" width="6.04" height="1.93" fill="#FF65AE"/>
<rect x="70.90" y="265.60" width="6.04" height="6.40" fill="#F8766D"/>
<rect x="70.90" y="271.40" width="6.04" height="17.60" fill="#E58709"/>
<rect x="70.90" y="288.40" width="6.04" height="5.82" fill="#62B200"/>
<rect x="70.90" y="293.61" width="6.04" height="5.91" fill="#29B600"/>
<rect x="70.90" y="298.93" width="6.04" height="13.64" fill="#00C099"/>
<rect x="70.90" y="311.97" width="6.04" height="24.75" fill="#00ADFB"/>
<rect x="70.90" y="336.12" width="6.04" height="8.71" fill="#8C92FF"/>
<rect x="70.90" y="344.23" width="6.04" height="16.64" fill="#E26EF7"/>
<rect x="70.90" y="360.27" width="6.04" height="1.93" fill="#FF65AE"/>
<rect x="75.94" y="265.60" width="6.04" height="1.57" fill="#F8766D"/>
<rect x="75.94" y="266.57" width="6.04" height="2.92" fill="#E58709"/>
<rect x="75.94" y="268.88" width="6.04" height="2.63" fill="#29B600"/>
<rect x="75.94" y="270.91" width="6.04" height="28.61" fill="#00C099"/>
<rect x="75.94" y="298.93" width="6.04" height="13.64" fill="#00ADFB"/>
<rect x="75.94" y="311.97" width="6.04" height="32.86" fill="#A08CFF"/>
<rect x="75.94" y="344.23" width="6.04" height="17.12" fill="#E26EF7"/>
<rect x="75.94" y="360.75" width="6.04" height="1.45" fill="#FF65AE"/>
<rect x="80.99" y="265.60" width="6.04" height="1.76" fill="#F8766D"/>
<rect x="80.99" y="266.76" width="6.04" height="5.72" fill="#E58709"/>
<rect x="80.99" y="271.88" width="6.04" height="15.57" fill="#29B600"/>
<rect x="80.99" y="286.85" width="6.04" height="48.90" fill="#00C099"/>
<rect x="80.99" y="335.15" width="6.04" height="10.65" fill="#00ADFB"/>
<rect x="80.99" y="345.20" width="6.04" height="5.62" fill="#8C92FF"/>
<rect x="80.99" y="350.22" width="6.04" height="9.68" fill="#B185FF"/>
<rect x="80.99" y="359.30" width="6.04" height="2.90" fill="#FF65AE"/>
<rect x="86.03" y="265.60" width="6.04" height="2.53" fill="#F8766D"/>
<rect x="86.03" y="267.53" width="6.04" height="30.93" fill="#E58709"/>
<rect x="86.03" y="297.86" width="6.04" height="6.98" fill="#A7A400"/>
<rect x="86.03" y="304.24" width="6.04" height="7.36" fill="#83AD00"/>
<rect x="86.03" y="311.00" width="6.04" height="3.50" fill="#00C099"/>
<rect x="86.03" y="313.90" width="6.04" height="21.37" fill="#00ADFB"/>
<rect x="86.03" y="334.67" width="6.04" height="7.17" fill="#B185FF"/>
<rect x="86.03" y="341.24" width="6.04" height="18.66" fill="#CD79FF"/>
<rect x="86.03" y="359.30" width="6.04" height="2.90" fill="#FF65AE"/>
<rect x="91.07" y="265.60" width="6.04" height="3.88" fill="#F8766D"/>
<rect x="91.07" y="268.88" width="6.04" height="17.60" fill="#D98F00"/>
<rect x="91.07" y="285.89" width="6.04" height="4.66" fill="#29B600"/>
<rect x="91.07" y="289.94" width="6.04" height="18.57" fill="#00C099"/>
<rect x="91.07" y="307.91" width="6.04" height="28.81" fill="#00ADFB"/>
<rect x="91.07" y="336.12" width="6.04" height="5.72" fill="#8C92FF"/>
<rect x="91.07" y="341.24" width="6.04" height="11.56" fill="#C07FFF"/>
<rect x="91.07" y="352.20" width="6.04" height="10.00" fill="#FF61C4"/>
<rect x="96.11" y="265.60" width="6.04" height="2.92" fill="#F8766D"/>
<rect x="96.11" y="267.92" width="6.04" height="41.56" fill="#E58709"/>
<rect x="96.11" y="308.88" width="6.04" height="10.45" fill="#90AA00"/>
<rect x="96.11" y="318.73" width="6.04" height="9.10" fill="#00C099"/>
<rect x="96.11" y="327.23" width="6.04" height="10.07" fill="#00ADFB"/>
<rect x="96.11" y="336.70" width="6.04" height="8.13" fill="#8C92FF"/>
<rect x="96.11" y="344.23" width="6.04" height="16.06" fill="#D873FC"/>
<rect x="96.11" y="359.69" width="6.04" height="2.51" fill="#FF65AE"/>
<rect x="101.16" y="265.60" width="6.04" height="6.88" fill="#F8766D"/>
<rect x="101.16" y="271.88" width="6.04" height="11.13" fill="#E58709"/>
<rect x="101.16" y="282.41" width="6.04" height="54.89" fill="#00C099"/>
<rect x="101.16" y="336.70" width="6.04" height="16.10" fill="#00ADFB"/>
<rect x="101.16" y="352.20" width="6.04" height="3.64" fill="#8C92FF"/>
<rect x="101.16" y="355.24" width="6.04" height="5.62" fill="#C07FFF"/>
<rect x="101.16" y="360.27" width="6.04" height="1.93" fill="#FF65AE"/>
<rect x="106.20" y="265.60" width="6.04" height="2.92" fill="#F8766D"/>
<rect x="106.20" y="267.92" width="6.04" height="6.59" fill="#E58709"/>
<rect x="106.20" y="273.91" width="6.04" height="6.11" fill="#29B600"/>
<rect x="106.20" y="279.41" width="6.04" height="26.10" fill="#00C099"/>
<rect x="106.20" y="304.92" width="6.04" height="29.87" fill="#00ADFB"/>
<rect x="106.20" y="334.19" width="6.04" height="16.64" fill="#8C92FF"/>
<rect x="106.20" y="350.22" width="6.04" height="10.65" fill="#C07FFF"/>
<rect x="106.20" y="360.27" width="6.04" height="1.93" fill="#FF65AE"/>
<rect x="111.24" y="265.60" width="6.04" height="5.91" fill="#F8766D"/>
<rect x="111.24" y="270.91" width="6.04" height="4.56" fill="#E58709"/>
<rect x="111.24" y="274.87" width="6.04" height="5.14" fill="#29B600"/>
<rect x="111.24" y="279.41" width="6.04" height="57.88" fill="#00C099"/>
<rect x="111.24" y="336.70" width="6.04" height="14.12" fill="#00ADFB"/>
<rect x="111.24" y="350.22" width="6.04" height="5.62" fill="#8C92FF"/>
<rect x="111.24" y="355.24" width="6.04" height="5.62" fill="#C07FFF"/>
<rect x="111.24" y="360.27" width="6.04" height="1.93" fill="#FF65AE"/>
<rect x="116.29" y="265.60" width="6.04" height="9.39" fill="#F8766D"/>
<rect x="116.29" y="274.39" width="6.04" height="17.12" fill="#E58709"/>
<rect x="116.29" y="290.91" width="6.04" height="7.17" fill="#83AD00"/>
<rect x="116.29" y="297.48" width="6.04" height="6.98" fill="#4CB400"/>
<rect x="116.29" y="303.85" width="6.04" height="8.71" fill="#00C099"/>
<rect x="116.29" y="311.97" width="6.04" height="28.81" fill="#00ADFB"/>
<rect x="116.29" y="340.18" width="6.04" height="5.62" fill="#8C92FF"/>
<rect x="116.29" y="345.20" width="6.04" height="15.09" fill="#C07FFF"/>
<rect x="116.29" y="359.69" width="6.04" height="2.51" fill="#FF65AE"/>
<rect x="121.33" y="265.60" width="6.04" height="1.57" fill="#F8766D"/>
<rect x="121.33" y="266.57" width="6.04" height="10.45" fill="#E58709"/>
<rect x="121.33" y="276.42" width="6.04" height="2.53" fill="#29B600"/>
<rect x="121.33" y="278.35" width="6.04" height="17.12" fill="#00C099"/>
<rect x="121.33" y="294.87" width="6.04" height="19.15" fill="#00ADFB"/>
<rect x="121.33" y="313.42" width="6.04" height="32.38" fill="#A08CFF"/>
<rect x="121.33" y="345.20" width="6.04" height="16.15" fill="#CD79FF"/>
<rect x="121.33" y="360.75" width="6.04" height="1.45" fill="#FF65AE"/>
<rect x="126.37" y="265.60" width="6.04" height="8.33" fill="#F8766D"/>
<rect x="126.37" y="273.33" width="6.04" height="16.64" fill="#E58709"/>
<rect x="126.37" y="289.36" width="6.04" height="2.15" fill="#29B600"/>
<rect x="126.37" y="290.91" width="6.04" height="6.59" fill="#00C099"/>
<rect x="126.37" y="296.90" width="6.04" height="42.91" fill="#00ADFB"/>
<rect x="126.37" y="339.21" width="6.04" height="10.55" fill="#8C92FF"/>
<rect x="126.37" y="349.16" width="6.04" height="10.74" fill="#C07FFF"/>
<rect x="126.37" y="359.30" width="6.04" height="2.90" fill="#FF65AE"/>
<rect x="131.41" y="265.60" width="6.04" height="1.76" fill="#F8766D"/>
<rect x="131.41" y="266.76" width="6.04" height="7.75" fill="#E58709"/>
<rect x="131.41" y="273.91" width="6.04" height="3.59" fill="#90AA00"/>
<rect x="131.41" y="276.90" width="6.04" height="4.56" fill="#29B600"/>
<rect x="131.41" y="280.86" width="6.04" height="9.68" fill="#00C099"/>
<rect x="131.41" y="289.94" width="6.04" height="50.35" fill="#00ADFB"/>
<rect x="131.41" y="339.69" width="6.04" height="6.11" fill="#8C92FF"/>
<rect x="131.41" y="345.20" width="6.04" height="14.70" fill="#D873FC"/>
<rect x="131.41" y="359.30" width="6.04" height="2.90" fill="#FF65AE"/>
<rect x="136.46" y="265.60" width="6.04" height="1.57" fill="#F8766D"/>
<rect x="136.46" y="266.57" width="6.04" height="35.96" fill="#D29300"/>
<rect x="136.46" y="301.92" width="6.04" height="7.56" fill="#29B600"/>
<rect x="136.46" y="308.88" width="6.04" height="3.69" fill="#00C099"/>
<rect x="136.46" y="311.97" width="6.04" height="32.86" fill="#00ADFB"/>
<rect x="136.46" y="344.23" width="6.04" height="6.59" fill="#8C92FF"/>
<rect x="136.46" y="350.22" width="6.04" height="10.07" fill="#B185FF"/>
<rect x="136.46" y="359.69" width="6.04" height="2.51" fill="#FF65AE"/>
<rect x="141.50" y="265.60" width="6.04" height="4.95" fill="#F8766D"/>
<rect x="141.50" y="269.95" width="6.04" height="13.06" fill="#E58709"/>
<rect x="141.50" y="282.41" width="6.04" height="3.59" fill="#29B600"/>
<rect x="141.50" y="285.40" width="6.04" height="3.11" fill="#00C099"/>
<rect x="141.50" y="287.91" width="6.04" height="58.85" fill="#00ADFB"/>
<rect x="141.50" y="346.16" width="6.04" height="9.68" fill="#8C92FF"/>
<rect x="141.50" y="355.24" width="6.04" height="5.62" fill="#C07FFF"/>
<rect x="141.50" y="360.27" width="6.04" height="1.93" fill="#FF65AE"/>
<rect x="146.54" y="265.60" width="6.04" height="3.88" fill="#F8766D"/>
<rect x="146.54" y="268.88" width="6.04" height="18.08" fill="#E58709"/>
<rect x="146.54" y="286.37" width="6.04" height="3.11" fill="#29B600"/>
<rect x="146.54" y="288.88" width="6.04" height="26.59" fill="#00C099"/>
<rect x="146.54" y="314.87" width="6.04" height="30.93" fill="#00ADFB"/>
<rect x="146.54" y="345.20" width="6.04" height="14.70" fill="#F763E1"/>
<rect x="146.54" y="359.30" width="6.04" height="2.90" fill="#FF6B96"/>
<rect x="151.58" y="265.60" width="6.04" height="44.07" fill="#00C1A5"/>
<rect x="151.58" y="309.07" width="6.04" height="52.96" fill="#00C08D"/>
<rect x="151.58" y="361.43" width="6.04" height="0.77" fill="#FF65AE"/>
<rect x="156.63" y="265.60" width="6.04" height="5.91" fill="#F8766D"/>
<rect x="156.63" y="270.91" width="6.04" height="23.59" fill="#E58709"/>
<rect x="156.63" y="293.90" width="6.04" height="5.62" fill="#29B600"/>
<rect x="156.63" y="298.93" width="6.04" height="19.92" fill="#00C099"/>
<rect x="156.63" y="318.25" width="6.04" height="29.58" fill="#00ADFB"/>
<rect x="156.63" y="347.23" width="6.04" height="8.62" fill="#C07FFF"/>
<rect x="156.63" y="355.24" width="6.04" height="5.62" fill="#EA6AF0"/>
<rect x="156.63" y="360.27" width="6.04" height="1.93" fill="#FF65AE"/>
<rect x="161.67" y="265.60" width="6.04" height="2.53" fill="#F8766D"/>
<rect x="161.67" y="267.53" width="6.04" height="9.00" fill="#E58709"/>
<rect x="161.67" y="275.94" width="6.04" height="9.58" fill="#90AA00"/>
<rect x="161.67" y="284.92" width="6.04" height="8.62" fill="#29B600"/>
<rect x="161.67" y="292.94" width="6.04" height="22.82" fill="#00C099"/>
<rect x="161.67" y="315.16" width="6.04" height="19.15" fill="#00ADFB"/>
<rect x="161.67" y="333.70" width="6.04" height="5.14" fill="#8C92FF"/>
<rect x="161.67" y="338.24" width="6.04" height="16.06" fill="#E26EF7"/>
<rect x="161.67" y="353.70" width="6.04" height="8.50" fill="#FF65AE"/>
<rect x="166.71" y="265.60" width="6.04" height="2.92" fill="#F8766D"/>
<rect x="166.71" y="267.92" width="6.04" height="40.59" fill="#E58709"/>
<rect x="166.71" y="307.91" width="6.04" height="12.87" fill="#29B600"/>
<rect x="166.71" y="320.18" width="6.04" height="20.11" fill="#00ADFB"/>
<rect x="166.71" y="339.69" width="6.04" height="20.60" fill="#8C92FF"/>
<rect x="166.71" y="359.69" width="6.04" height="2.51" fill="#FF65AE"/>
<rect x="171.75" y="265.60" width="5.04" height="1.57" fill="#F8766D"/>
<rect x="171.75" y="266.57" width="5.04" height="8.42" fill="#E58709"/>
<rect x="171.75" y="274.39" width="5.04" height="11.13" fill="#29B600"/>
<rect x="171.75" y="284.92" width="5.04" height="12.58" fill="#00C099"/>
<rect x="171.75" y="296.90" width="5.04" height="31.90" fill="#00ADFB"/>
<rect x="171.75" y="328.20" width="5.04" height="9.10" fill="#8C92FF"/>
<rect x="171.75" y="336.70" width="5.04" height="25.14" fill="#D873FC"/>
<rect x="171.75" y="361.23" width="5.04" height="0.97" fill="#FF65AE"/>
<text x="267.60" y="375.80" font-size="7.7" fill="#000" stroke="#000" text-anchor="middle">samples</text>
<text transform="translate(7.7,190.2) rotate(-90)" font-size="7.7" fill="#000" stroke="#000" text-anchor="middle">Relative Abundance</text>
<text x="86.10" y="471.20" font-size="7.7" fill="#000" stroke="#000" text-anchor="start">genus</text>
<rect x="111.20" y="389.70" width="11.60" height="11.75" fill="#F8766D"/>
<text x="126.90" y="397.77" font-size="6.1" fill="#000" stroke="#000" text-anchor="start">Absidia</text>
<rect x="111.20" y="401.85" width="11.60" height="11.75" fill="#F47A5D"/>
<text x="126.90" y="409.92" font-size="6.1" fill="#000" stroke="#000" text-anchor="start">Anaeromyces</text>
<rect x="111.20" y="414.00" width="11.60" height="11.75" fill="#F07F4B"/>
<text x="126.90" y="422.07" font-size="6.1" fill="#000" stroke="#000" text-anchor="start">Arthrobotrys</text>
<rect x="111.20" y="426.15" width="11.60" height="11.75" fill="#EB8334"/>
<text x="126.90" y="434.22" font-size="6.1" fill="#000" stroke="#000" text-anchor="start">Ascosphaera</text>
<rect x="111.20" y="438.30" width="11.60" height="11.75" fill="#E58709"/>
<text x="126.90" y="446.38" font-size="6.1" fill="#000" stroke="#000" text-anchor="start">Aspergillus</text>
<rect x="111.20" y="450.45" width="11.60" height="11.75" fill="#DF8B00"/>
<text x="126.90" y="458.52" font-size="6.1" fill="#000" stroke="#000" text-anchor="start">Aureobasidium</text>
<rect x="111.20" y="462.60" width="11.60" height="11.75" fill="#D98F00"/>
<text x="126.90" y="470.67" font-size="6.1" fill="#000" stroke="#000" text-anchor="start">Basidiobolus</text>
<rect x="111.20" y="474.75" width="11.60" height="11.75" fill="#D29300"/>
<text x="126.90" y="482.82" font-size="6.1" fill="#000" stroke="#000" text-anchor="start">Batrachochytrium</text>
<rect x="111.20" y="486.90" width="11.60" height="11.75" fill="#CB9700"/>
<text x="126.90" y="494.97" font-size="6.1" fill="#000" stroke="#000" text-anchor="start">Candida</text>
<rect x="111.20" y="499.05" width="11.60" height="11.75" fill="#C39A00"/>
<text x="126.90" y="507.12" font-size="6.1" fill="#000" stroke="#000" text-anchor="start">Ceratocystis</text>
<rect x="111.20" y="511.20" width="11.60" height="11.75" fill="#BA9E00"/>
<text x="126.90" y="519.28" font-size="6.1" fill="#000" stroke="#000" text-anchor="start">Chaetomium</text>
<rect x="111.20" y="523.35" width="11.60" height="11.75" fill="#B1A100"/>
<text x="126.90" y="531.43" font-size="6.1" fill="#000" stroke="#000" text-anchor="start">Clavispora</text>
<rect x="111.20" y="535.50" width="11.60" height="11.75" fill="#A7A400"/>
<text x="126.90" y="543.58" font-size="6.1" fill="#000" stroke="#000" text-anchor="start">Colletotrichum</text>
<rect x="179.20" y="389.70" width="11.60" height="11.75" fill="#9CA700"/>
<text x="194.90" y="397.77" font-size="6.1" fill="#000" stroke="#000" text-anchor="start">Conidiobolus</text>
<rect x="179.20" y="401.85" width="11.60" height="11.75" fill="#90AA00"/>
<text x="194.90" y="409.92" font-size="6.1" fill="#000" stroke="#000" text-anchor="start">Coniochaeta</text>
<rect x="179.20" y="414.00" width="11.60" height="11.75" fill="#83AD00"/>
<text x="194.90" y="422.07" font-size="6.1" fill="#000" stroke="#000" text-anchor="start">Cryptococcus</text>
<rect x="179.20" y="426.15" width="11.60" height="11.75" fill="#74B000"/>
<text x="194.90" y="434.22" font-size="6.1" fill="#000" stroke="#000" text-anchor="start">Diversispora</text>
<rect x="179.20" y="438.30" width="11.60" height="11.75" fill="#62B200"/>
<text x="194.90" y="446.38" font-size="6.1" fill="#000" stroke="#000" text-anchor="start">Exophiala</text>
<rect x="179.20" y="450.45" width="11.60" height="11.75" fill="#4CB400"/>
<text x="194.90" y="458.52" font-size="6.1" fill="#000" stroke="#000" text-anchor="start">Fusarium</text>
<rect x="179.20" y="462.60" width="11.60" height="11.75" fill="#29B600"/>
<text x="194.90" y="470.67" font-size="6.1" fill="#000" stroke="#000" text-anchor="start">Glomus</text>
<rect x="179.20" y="474.75" width="11.60" height="11.75" fill="#00B825"/>
<text x="194.90" y="482.82" font-size="6.1" fill="#000" stroke="#000" text-anchor="start">Golovinomyces</text>
<rect x="179.20" y="486.90" width="11.60" height="11.75" fill="#00BA40"/>
<text x="194.90" y="494.97" font-size="6.1" fill="#000" stroke="#000" text-anchor="start">Gonapodya</text>
<rect x="179.20" y="499.05" width="11.60" height="11.75" fill="#00BC53"/>
<text x="194.90" y="507.12" font-size="6.1" fill="#000" stroke="#000" text-anchor="start">Hanseniaspora</text>
<rect x="179.20" y="511.20" width="11.60" height="11.75" fill="#00BD64"/>
<text x="194.90" y="519.28" font-size="6.1" fill="#000" stroke="#000" text-anchor="start">Lachancea</text>
<rect x="179.20" y="523.35" width="11.60" height="11.75" fill="#00BE72"/>
<text x="194.90" y="531.43" font-size="6.1" fill="#000" stroke="#000" text-anchor="start">Lichtheimia</text>
<rect x="179.20" y="535.50" width="11.60" height="11.75" fill="#00BF80"/>
<text x="194.90" y="543.58" font-size="6.1" fill="#000" stroke="#000" text-anchor="start">Lipomyces</text>
<rect x="241.00" y="389.70" width="11.60" height="11.75" fill="#00C08D"/>
<text x="256.70" y="397.77" font-size="6.1" fill="#000" stroke="#000" text-anchor="start">Lobosporangium</text>
<rect x="241.00" y="401.85" width="11.60" height="11.75" fill="#00C099"/>
<text x="256.70" y="409.92" font-size="6.1" fill="#000" stroke="#000" text-anchor="start">Malassezia</text>
<rect x="241.00" y="414.00" width="11.60" height="11.75" fill="#00C1A5"/>
<text x="256.70" y="422.07" font-size="6.1" fill="#000" stroke="#000" text-anchor="start">Meira</text>
<rect x="241.00" y="426.15" width="11.60" height="11.75" fill="#00C0B0"/>
<text x="256.70" y="434.22" font-size="6.1" fill="#000" stroke="#000" text-anchor="start">Melampsora</text>
<rect x="241.00" y="438.30" width="11.60" height="11.75" fill="#00C0BA"/>
<text x="256.70" y="446.38" font-size="6.1" fill="#000" stroke="#000" text-anchor="start">Metarhizium</text>
<rect x="241.00" y="450.45" width="11.60" height="11.75" fill="#00BFC4"/>
<text x="256.70" y="458.52" font-size="6.1" fill="#000" stroke="#000" text-anchor="start">Metschnikowia</text>
<rect x="241.00" y="462.60" width="11.60" height="11.75" fill="#00BECE"/>
<text x="256.70" y="470.67" font-size="6.1" fill="#000" stroke="#000" text-anchor="start">Microbotryum</text>
<rect x="241.00" y="474.75" width="11.60" height="11.75" fill="#00BCD7"/>
<text x="256.70" y="482.82" font-size="6.1" fill="#000" stroke="#000" text-anchor="start">Microdochium</text>
<rect x="241.00" y="486.90" width="11.60" height="11.75" fill="#00BAE0"/>
<text x="256.70" y="494.97" font-size="6.1" fill="#000" stroke="#000" text-anchor="start">Monosporascus</text>
<rect x="241.00" y="499.05" width="11.60" height="11.75" fill="#00B7E8"/>
<text x="256.70" y="507.12" font-size="6.1" fill="#000" stroke="#000" text-anchor="start">Mortierella</text>
<rect x="241.00" y="511.20" width="11.60" height="11.75" fill="#00B4EF"/>
<text x="256.70" y="519.28" font-size="6.1" fill="#000" stroke="#000" text-anchor="start">Mucor</text>
<rect x="241.00" y="523.35" width="11.60" height="11.75" fill="#00B1F5"/>
<text x="256.70" y="531.43" font-size="6.1" fill="#000" stroke="#000" text-anchor="start">Neocallimastix</text>
<rect x="241.00" y="535.50" width="11.60" height="11.75" fill="#00ADFB"/>
<text x="256.70" y="543.58" font-size="6.1" fill="#000" stroke="#000" text-anchor="start">Ogataea</text>
<rect x="306.75" y="389.70" width="11.60" height="11.75" fill="#00A8FF"/>
<text x="322.45" y="397.77" font-size="6.1" fill="#000" stroke="#000" text-anchor="start">Ophiocordyceps</text>
<rect x="306.75" y="401.85" width="11.60" height="11.75" fill="#1EA3FF"/>
<text x="322.45" y="409.92" font-size="6.1" fill="#000" stroke="#000" text-anchor="start">Penicillium</text>
<rect x="306.75" y="414.00" width="11.60" height="11.75" fill="#569EFF"/>
<text x="322.45" y="422.07" font-size="6.1" fill="#000" stroke="#000" text-anchor="start">Phialocephala</text>
<rect x="306.75" y="426.15" width="11.60" height="11.75" fill="#7498FF"/>
<text x="322.45" y="434.22" font-size="6.1" fill="#000" stroke="#000" text-anchor="start">Piromyces</text>
<rect x="306.75" y="438.30" width="11.60" height="11.75" fill="#8C92FF"/>
<text x="322.45" y="446.38" font-size="6.1" fill="#000" stroke="#000" text-anchor="start">Pseudocercospora</text>
<rect x="306.75" y="450.45" width="11.60" height="11.75" fill="#A08CFF"/>
<text x="322.45" y="458.52" font-size="6.1" fill="#000" stroke="#000" text-anchor="start">Pseudogymnoascus</text>
<rect x="306.75" y="462.60" width="11.60" height="11.75" fill="#B185FF"/>
<text x="322.45" y="470.67" font-size="6.1" fill="#000" stroke="#000" text-anchor="start">Puccinia</text>
<rect x="306.75" y="474.75" width="11.60" height="11.75" fill="#C07FFF"/>
<text x="322.45" y="482.82" font-size="6.1" fill="#000" stroke="#000" text-anchor="start">Rhizophagus</text>
<rect x="306.75" y="486.90" width="11.60" height="11.75" fill="#CD79FF"/>
<text x="322.45" y="494.97" font-size="6.1" fill="#000" stroke="#000" text-anchor="start">Rhizopus</text>
<rect x="306.75" y="499.05" width="11.60" height="11.75" fill="#D873FC"/>
<text x="322.45" y="507.12" font-size="6.1" fill="#000" stroke="#000" text-anchor="start">Rhodotorula</text>
<rect x="306.75" y="511.20" width="11.60" height="11.75" fill="#E26EF7"/>
<text x="322.45" y="519.28" font-size="6.1" fill="#000" stroke="#000" text-anchor="start">Saccharomyces</text>
<rect x="306.75" y="523.35" width="11.60" height="11.75" fill="#EA6AF0"/>
<text x="322.45" y="531.43" font-size="6.1" fill="#000" stroke="#000" text-anchor="start">Schizosaccharomyces</text>
<rect x="306.75" y="535.50" width="11.60" height="11.75" fill="#F166E9"/>
<text x="322.45" y="543.58" font-size="6.1" fill="#000" stroke="#000" text-anchor="start">Scytalidium</text>
<rect x="388.00" y="389.70" width="11.60" height="11.75" fill="#F763E1"/>
<text x="403.70" y="397.77" font-size="6.1" fill="#000" stroke="#000" text-anchor="start">Serendipita</text>
<rect x="388.00" y="401.85" width="11.60" height="11.75" fill="#FB61D8"/>
<text x="403.70" y="409.92" font-size="6.1" fill="#000" stroke="#000" text-anchor="start">Smittium</text>
<rect x="388.00" y="414.00" width="11.60" height="11.75" fill="#FE61CE"/>
<text x="403.70" y="422.07" font-size="6.1" fill="#000" stroke="#000" text-anchor="start">Sphaerobolus</text>
<rect x="388.00" y="426.15" width="11.60" height="11.75" fill="#FF61C4"/>
<text x="403.70" y="434.22" font-size="6.1" fill="#000" stroke="#000" text-anchor="start">Spizellomyces</text>
<rect x="388.00" y="438.30" width="11.60" height="11.75" fill="#FF62BA"/>
<text x="403.70" y="446.38" font-size="6.1" fill="#000" stroke="#000" text-anchor="start">Sporothrix</text>
<rect x="388.00" y="450.45" width="11.60" height="11.75" fill="#FF65AE"/>
<text x="403.70" y="458.52" font-size="6.1" fill="#000" stroke="#000" text-anchor="start">Talaromyces</text>
<rect x="388.00" y="462.60" width="11.60" height="11.75" fill="#FF67A3"/>
<text x="403.70" y="470.67" font-size="6.1" fill="#000" stroke="#000" text-anchor="start">Trichoderma</text>
<rect x="388.00" y="474.75" width="11.60" height="11.75" fill="#FF6B96"/>
<text x="403.70" y="482.82" font-size="6.1" fill="#000" stroke="#000" text-anchor="start">Trichomonascus</text>
<rect x="388.00" y="486.90" width="11.60" height="11.75" fill="#FE6E89"/>
<text x="403.70" y="494.97" font-size="6.1" fill="#000" stroke="#000" text-anchor="start">Wallemia</text>
<rect x="388.00" y="499.05" width="11.60" height="11.75" fill="#FB727C"/>
<text x="403.70" y="507.12" font-size="6.1" fill="#000" stroke="#000" text-anchor="start">Wickerhamiella</text>
</svg>
</body></html>
